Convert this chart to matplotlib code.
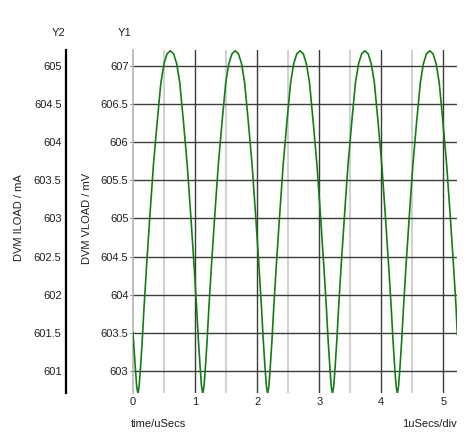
import matplotlib
matplotlib.use("Agg")
import matplotlib.pyplot as plt

plt.rcParams['font.family'] = ['Liberation Sans', 'DejaVu Sans']

# time in uSecs
time_us = [
    0.000, 0.039, 0.059,
    0.079, 0.099, 0.119, 0.149, 0.179, 0.219, 0.269, 0.329, 0.389, 0.449, 0.499, 0.549,
    0.602, 0.654, 0.704, 0.754, 0.814, 0.874, 0.934, 0.984, 1.024, 1.054, 1.084, 1.104,
    1.124, 1.144, 1.164, 1.194, 1.224, 1.264, 1.314, 1.374, 1.434, 1.494, 1.544, 1.594,
    1.647, 1.699, 1.749, 1.799, 1.859, 1.919, 1.979, 2.029, 2.069, 2.099, 2.129, 2.149,
    2.169, 2.189, 2.209, 2.239, 2.269, 2.309, 2.359, 2.419, 2.479, 2.539, 2.589, 2.639,
    2.692, 2.744, 2.794, 2.844, 2.904, 2.964, 3.024, 3.074, 3.114, 3.144, 3.174, 3.194,
    3.214, 3.234, 3.254, 3.284, 3.314, 3.354, 3.404, 3.464, 3.524, 3.584, 3.634, 3.684,
    3.737, 3.789, 3.839, 3.889, 3.949, 4.009, 4.069, 4.119, 4.159, 4.189, 4.219, 4.239,
    4.259, 4.279, 4.299, 4.329, 4.359, 4.399, 4.449, 4.509, 4.569, 4.629, 4.679, 4.729,
    4.782, 4.834, 4.884, 4.934, 4.994, 5.054, 5.114, 5.164, 5.204, 5.225,
]

# DVM VLOAD in mV
vload_mv = [
    603.50, 603.02, 602.80,
    602.70, 602.80, 603.02, 603.40, 603.85, 604.38, 605.00, 605.70, 606.26, 606.78, 607.03, 607.16,
    607.20, 607.16, 607.03, 606.78, 606.26, 605.70, 605.00, 604.38, 603.85, 603.40, 603.02, 602.80,
    602.70, 602.80, 603.02, 603.40, 603.85, 604.38, 605.00, 605.70, 606.26, 606.78, 607.03, 607.16,
    607.20, 607.16, 607.03, 606.78, 606.26, 605.70, 605.00, 604.38, 603.85, 603.40, 603.02, 602.80,
    602.70, 602.80, 603.02, 603.40, 603.85, 604.38, 605.00, 605.70, 606.26, 606.78, 607.03, 607.16,
    607.20, 607.16, 607.03, 606.78, 606.26, 605.70, 605.00, 604.38, 603.85, 603.40, 603.02, 602.80,
    602.70, 602.80, 603.02, 603.40, 603.85, 604.38, 605.00, 605.70, 606.26, 606.78, 607.03, 607.16,
    607.20, 607.16, 607.03, 606.78, 606.26, 605.70, 605.00, 604.38, 603.85, 603.40, 603.02, 602.80,
    602.70, 602.80, 603.02, 603.40, 603.85, 604.38, 605.00, 605.70, 606.26, 606.78, 607.03, 607.16,
    607.20, 607.16, 607.03, 606.78, 606.26, 605.70, 605.00, 604.38, 603.85, 603.48,
]

y1_ticks = [603, 603.5, 604, 604.5, 605, 605.5, 606, 606.5, 607]
y1_labels = ['603', '603.5', '604', '604.5', '605', '605.5', '606', '606.5', '607']
y2_ticks = [601, 601.5, 602, 602.5, 603, 603.5, 604, 604.5, 605]
y2_labels = ['601', '601.5', '602', '602.5', '603', '603.5', '604', '604.5', '605']
x_ticks = [0, 1, 2, 3, 4, 5]
x_minor = [0.5, 1.5, 2.5, 3.5, 4.5]

W, H = 474, 444
fig = plt.figure(figsize=(W / 100, H / 100), dpi=100)
fs = 8

def fx(px):
    return px / W

def fy(py):
    return 1 - py / H

left, right, top, bottom = 133, 457.3, 50, 393
ax = fig.add_axes([fx(left), fy(bottom), fx(right - left), (bottom - top) / H])
ax.set_xlim(0, 5.225)
ax.set_ylim(602.71, 607.21)

for x in x_minor:
    ax.axvline(x, color='#d2d2d2', lw=1.5, zorder=1)
for x in x_ticks[1:]:
    ax.axvline(x, color='#3c3c3c', lw=1.0, zorder=1)
for y in y1_ticks:
    ax.axhline(y, color='#3c3c3c', lw=1.0, zorder=1)

ax.plot(time_us, vload_mv, color='#127d12', lw=1.2, zorder=3)

for s in ['top', 'right', 'bottom']:
    ax.spines[s].set_visible(False)
ax.spines['left'].set_color('#b4b4b4')
ax.spines['left'].set_linewidth(1.2)

ax.set_yticks(y1_ticks)
ax.set_yticklabels(y1_labels)
ax.set_xticks(x_ticks)
ax.set_xticklabels([str(x) for x in x_ticks])
ax.tick_params(axis='y', length=2.5, width=0.8, color='#808080', pad=0.8,
               labelsize=fs, labelcolor='#202020')
ax.tick_params(axis='x', length=0, pad=3, labelsize=fs, labelcolor='#202020')

# second y axis (Y2)
ax2 = fig.add_axes([fx(66), fy(bottom), 0.001, (bottom - top) / H])
ax2.set_ylim(600.71, 605.21)
ax2.set_xticks([])
for s in ['top', 'right', 'bottom']:
    ax2.spines[s].set_visible(False)
ax2.spines['left'].set_color('black')
ax2.spines['left'].set_linewidth(1.6)
ax2.patch.set_visible(False)
ax2.set_yticks(y2_ticks)
ax2.set_yticklabels(y2_labels)
ax2.tick_params(axis='y', length=0, pad=3.2, labelsize=fs, labelcolor='#202020')

fig.text(fx(59), fy(33), 'Y2', ha='center', va='center', fontsize=fs, color='#202020')
fig.text(fx(125), fy(33), 'Y1', ha='center', va='center', fontsize=fs, color='#202020')
fig.text(fx(19), fy(218), 'DVM ILOAD / mA', rotation=90, ha='center', va='center',
         fontsize=fs, color='#202020')
fig.text(fx(87), fy(218), 'DVM VLOAD / mV', rotation=90, ha='center', va='center',
         fontsize=fs, color='#202020')
fig.text(fx(158), fy(424), 'time/uSecs', ha='center', va='center', fontsize=fs, color='#202020')
fig.text(fx(457), fy(424), '1uSecs/div', ha='right', va='center', fontsize=fs, color='#202020')

fig.savefig('out.png', dpi=100, facecolor='white')
